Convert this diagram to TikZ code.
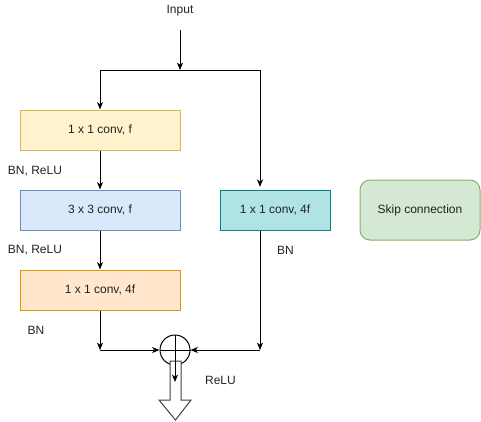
\documentclass[tikz,border=0pt]{standalone}
\usepackage{fontspec}
\setmainfont{Liberation Sans}
\usetikzlibrary{arrows.meta}
\definecolor{yfill}{HTML}{FFF2CC}\definecolor{ydraw}{HTML}{D6B656}
\definecolor{bfill}{HTML}{DAE8FC}\definecolor{bdraw}{HTML}{6C8EBF}
\definecolor{ofill}{HTML}{FFE6CC}\definecolor{odraw}{HTML}{D79B00}
\definecolor{tfill}{HTML}{B0E3E6}\definecolor{tdraw}{HTML}{0E8088}
\definecolor{gfill}{HTML}{D5E8D4}\definecolor{gdraw}{HTML}{82B366}
\definecolor{txt}{HTML}{222222}
\begin{document}
\begin{tikzpicture}[x=0.75pt,y=-0.75pt,
  font=\fontsize{9pt}{11pt}\selectfont, text=txt,
  box/.style={draw, line width=0.75pt, minimum width=120pt, minimum height=30pt, inner sep=0pt},
  sbox/.style={draw, line width=0.75pt, minimum width=82.5pt, minimum height=30pt, inner sep=0pt},
  lbl/.style={inner sep=0pt},
  arr/.style={line width=0.75pt, -{Stealth[length=5.5pt,width=4.5pt,inset=1.5pt]}},
  ln/.style={line width=0.75pt}]
\useasboundingbox (0,0) rectangle (481,421);
\node[lbl] (input) at (180,11) {Input};
\coordinate (ins) at (180,30);
\coordinate (j) at (180,70);
\coordinate (jl) at (100,70);
\coordinate (jr) at (260,70);
\node[box, fill=yfill, draw=ydraw] (b1) at (100,130) {1 x 1 conv, f};
\node[box, fill=bfill, draw=bdraw] (b2) at (100,210) {3 x 3 conv, f};
\node[box, fill=ofill, draw=odraw] (b3) at (100,290) {1 x 1 conv, 4f};
\node[sbox, fill=tfill, draw=tdraw] (sc) at (275,210) {1 x 1 conv, 4f};
\node[draw=gdraw, fill=gfill, line width=0.75pt, rounded corners=7.5pt, minimum width=90pt, minimum height=45pt, inner sep=0pt] (skip) at (420,210) {Skip connection};
\node[lbl] (l1) at (35,171) {BN, ReLU};
\node[lbl] (l2) at (35,250) {BN, ReLU};
\node[lbl] (l3) at (36,330) {BN};
\node[lbl] (l4) at (285.5,250) {BN};
\node[lbl] (l5) at (220.5,380) {ReLU};
\node[draw, circle, line width=0.75pt, minimum size=22.5pt, inner sep=0pt] (plus) at (175,350) {};
\draw[ln] (plus.north) -- (plus.south) (plus.west) -- (plus.east);
\coordinate (cl) at (100,350);
\coordinate (cr) at (260,350);
\coordinate (out) at (175,382);
% connectors
\draw[arr] (ins) -- (j);
\draw[ln] (jl) -- (jr);
\draw[arr] (jl) -- (b1.north);
\draw[arr, shorten >=2pt] (jr) -- (jr |- sc.north);
\draw[arr] (b1.south) -- (b2.north);
\draw[arr] (b2.south) -- (b3.north);
\draw[arr] (b3.south) -- (cl);
\draw[arr] (cl) -- (plus.west);
\draw[arr] (cr |- sc.south) -- (cr);
\draw[arr] (cr) -- (plus.east);
% hollow output arrow
\draw[line width=0.75pt, draw=black!75, fill=white] (170,361) -- (181,361) -- (181,400) -- (191,400) -- (175.5,420) -- (159,400) -- (170,400) -- cycle;
\draw[arr] (plus.center) -- (out);
\end{tikzpicture}
\end{document}
